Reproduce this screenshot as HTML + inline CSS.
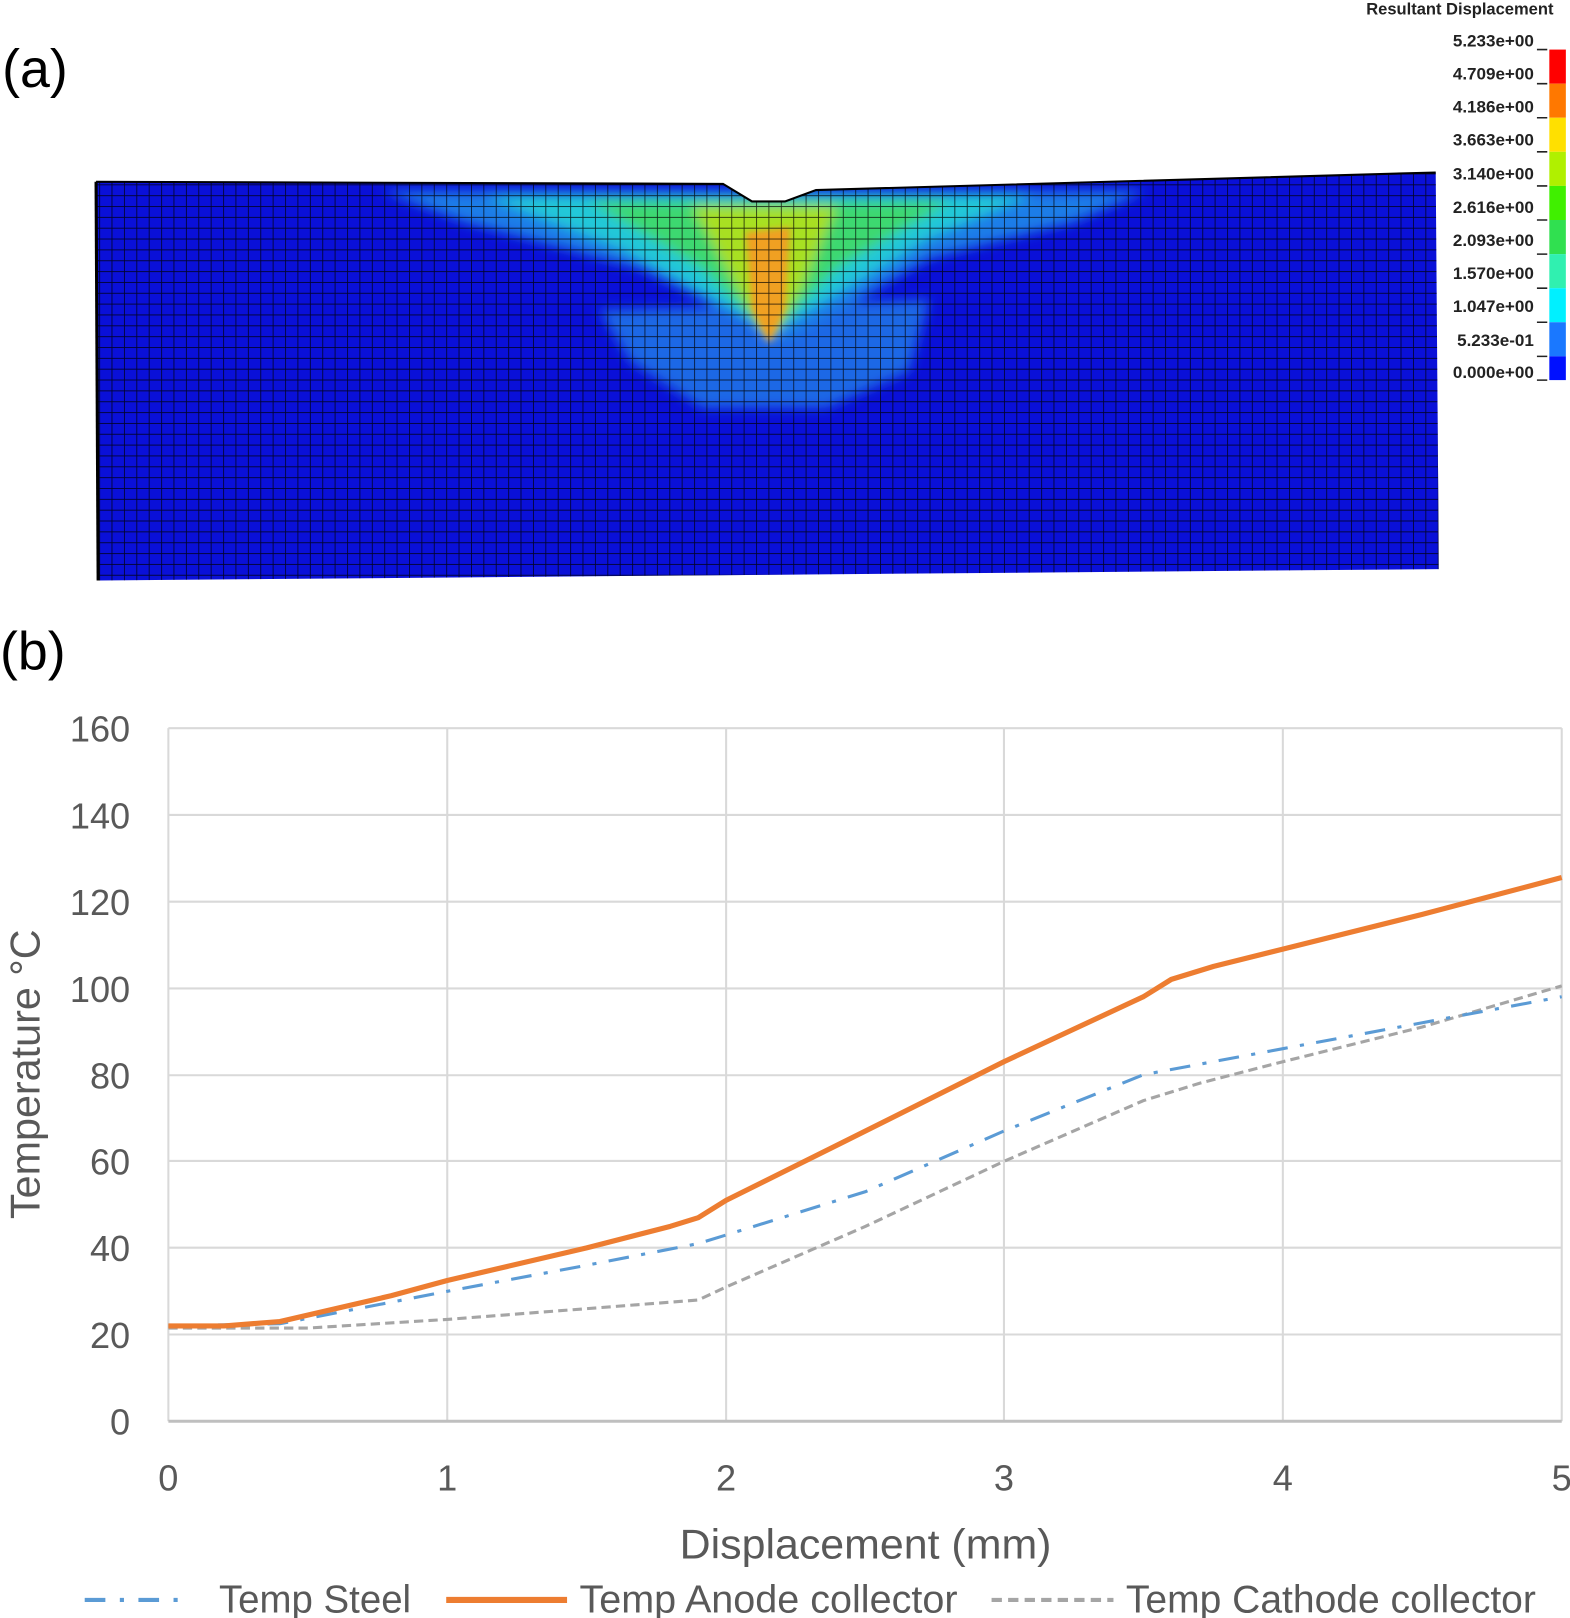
<!DOCTYPE html>
<html><head><meta charset="utf-8"><style>html,body{margin:0;padding:0;background:#fff}svg{display:block}</style></head>
<body>
<svg width="1570" height="1618" viewBox="0 0 1520 1566.5" xmlns="http://www.w3.org/2000/svg" font-family="Liberation Sans, sans-serif">
<defs>
<pattern id="grid" width="12" height="10.5" patternUnits="userSpaceOnUse">
<path d="M0 0H12M0 0V10.5" stroke="#000" stroke-width="1.6" fill="none" opacity="0.8"/>
</pattern>
<filter id="bl" x="-20%" y="-20%" width="140%" height="140%"><feGaussianBlur stdDeviation="6"/></filter>
<filter id="bl2"><feGaussianBlur stdDeviation="3"/></filter>
<clipPath id="mc"><path d="M93 176 L700 178 L728 195 L760 195 L790 184 L1390 167 L1393 551 L95 562 Z"/></clipPath>
</defs>
<text x="2" y="84" font-size="52" fill="#000">(a)</text>
<text x="0" y="648" font-size="52" fill="#000">(b)</text>
<g clip-path="url(#mc)">
<rect x="90" y="160" width="1310" height="410" fill="#0a10d8"/>
<g filter="url(#bl)">
<path d="M580 300 L900 290 L880 360 L800 395 L680 395 L610 350 Z" fill="#1a68e6"/>
<path d="M370 185 L1110 185 L1040 215 L900 250 L760 330 L620 260 L450 215 Z" fill="#1a7de8"/>
<path d="M470 190 L1000 188 L900 230 L750 320 L600 240 Z" fill="#22c8d8"/>
<path d="M570 195 L920 195 L810 260 L745 325 L680 260 Z" fill="#3ed870"/>
<path d="M670 200 L810 200 L775 280 L745 328 L715 280 Z" fill="#a8e020"/>
</g>
<path d="M722 225 L765 220 L760 300 L745 332 L728 300 Z" fill="#f0a020" filter="url(#bl2)"/>
<rect x="90" y="160" width="1310" height="410" fill="url(#grid)"/>
</g>
<path d="M93 176 L700 178 L728 195 L760 195 L790 184 L1390 167" stroke="#000" stroke-width="2" fill="none"/>
<path d="M93 176 L95 562" stroke="#000" stroke-width="3"/>
<text x="1504" y="14" font-size="16" font-weight="bold" text-anchor="end" fill="#222">Resultant Displacement</text>
<g>
<rect x="1500" y="48" width="16" height="33" fill="#ff0000"/>
<rect x="1500" y="81" width="16" height="33" fill="#ff7800"/>
<rect x="1500" y="114" width="16" height="33" fill="#ffe000"/>
<rect x="1500" y="147" width="16" height="33" fill="#b0f000"/>
<rect x="1500" y="180" width="16" height="33" fill="#40f000"/>
<rect x="1500" y="213" width="16" height="33" fill="#30e050"/>
<rect x="1500" y="246" width="16" height="33" fill="#30f0b0"/>
<rect x="1500" y="279" width="16" height="33" fill="#00f0ff"/>
<rect x="1500" y="312" width="16" height="33" fill="#1a78ff"/>
<rect x="1500" y="345" width="16" height="23" fill="#0010ff"/>
</g>
<g font-size="16.5" font-weight="bold" fill="#222" text-anchor="end">
<text x="1485" y="45">5.233e+00</text><text x="1485" y="77">4.709e+00</text><text x="1485" y="109">4.186e+00</text>
<text x="1485" y="141">3.663e+00</text><text x="1485" y="174">3.140e+00</text><text x="1485" y="206">2.616e+00</text>
<text x="1485" y="238">2.093e+00</text><text x="1485" y="270">1.570e+00</text><text x="1485" y="302">1.047e+00</text>
<text x="1485" y="335">5.233e-01</text><text x="1485" y="366">0.000e+00</text>
</g>
<g stroke="#222" stroke-width="1.5">
<path d="M1488 48h10M1488 81h10M1488 114h10M1488 147h10M1488 180h10M1488 213h10M1488 246h10M1488 279h10M1488 312h10M1488 345h10M1488 368h10"/>
</g>
<g stroke="#d9d9d9" stroke-width="2">
<path d="M163 705H1512M163 789H1512M163 873H1512M163 957H1512M163 1041H1512M163 1124H1512M163 1208H1512M163 1292H1512"/>
<path d="M163 705V1376M433 705V1376M703 705V1376M972 705V1376M1242 705V1376M1512 705V1376"/>
</g>
<path d="M163 1376H1512" stroke="#bfbfbf" stroke-width="3"/>
<g font-size="35" fill="#595959" text-anchor="end">
<text x="126" y="718">160</text><text x="126" y="802">140</text><text x="126" y="886">120</text>
<text x="126" y="970">100</text><text x="126" y="1054">80</text><text x="126" y="1137">60</text>
<text x="126" y="1221">40</text><text x="126" y="1305">20</text><text x="126" y="1389">0</text>
</g>
<g font-size="35" fill="#595959" text-anchor="middle">
<text x="163" y="1443">0</text><text x="433" y="1443">1</text><text x="703" y="1443">2</text>
<text x="972" y="1443">3</text><text x="1242" y="1443">4</text><text x="1512" y="1443">5</text>
</g>
<text x="658" y="1509" font-size="40" fill="#595959" textLength="360" lengthAdjust="spacingAndGlyphs">Displacement (mm)</text>
<text transform="translate(38,1040) rotate(-90)" font-size="40" fill="#595959" text-anchor="middle">Temperature °C</text>
<polyline fill="none" stroke="#a5a5a5" stroke-width="3" stroke-dasharray="9,5" points="163,1285.8 298,1285.8 433,1277.4 568,1267 676,1258.6 703,1246 838,1187.3 972,1124.4 1107,1065.6 1161,1048.9 1242,1027.9 1377,994.3 1512,954.5"/>
<polyline fill="none" stroke="#5b9bd5" stroke-width="3" stroke-dasharray="20,12,4,12" points="163,1283.7 271,1281.6 379,1260.7 433,1250.2 568,1225 676,1204 703,1195.7 838,1153.7 972,1095 1107,1040.5 1242,1015.3 1377,990.2 1512,965"/>
<polyline fill="none" stroke="#ed7d31" stroke-width="5" stroke-linejoin="round" points="163,1283.7 217,1283.7 271,1279.5 379,1254.4 433,1239.7 568,1208.2 649,1187.3 676,1178.9 703,1162.1 838,1095 972,1027.9 1107,965 1134,948.2 1175,935.6 1242,918.9 1377,885.3 1512,849.6"/>
<path d="M82 1549h104" stroke="#5b9bd5" stroke-width="4" stroke-dasharray="20,14,4,14"/>
<text x="212" y="1561" font-size="38" fill="#595959" textLength="186" lengthAdjust="spacingAndGlyphs">Temp Steel</text>
<path d="M432 1549h117" stroke="#ed7d31" stroke-width="6"/>
<text x="561" y="1561" font-size="38" fill="#595959" textLength="366" lengthAdjust="spacingAndGlyphs">Temp Anode collector</text>
<path d="M960 1549h118" stroke="#a5a5a5" stroke-width="4" stroke-dasharray="10,6"/>
<text x="1090" y="1561" font-size="38" fill="#595959" textLength="397" lengthAdjust="spacingAndGlyphs">Temp Cathode collector</text>
</svg>
</body></html>
